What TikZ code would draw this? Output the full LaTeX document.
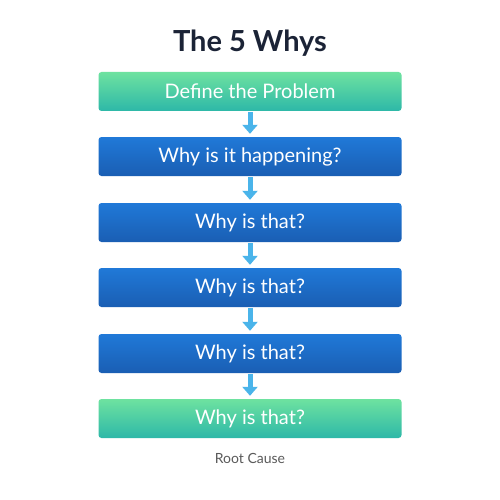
\documentclass[tikz,border=0pt]{standalone}
\usepackage{fontspec}
\setmainfont{Lato}
\usetikzlibrary{arrows.meta}
\definecolor{greenTop}{HTML}{6EE2A0}
\definecolor{greenBot}{HTML}{2DB8A8}
\definecolor{blueTop}{HTML}{2079D8}
\definecolor{blueBot}{HTML}{1A5EB3}
\definecolor{arrowBlue}{HTML}{4AB4EA}
\definecolor{titleNavy}{HTML}{1B2336}
\definecolor{noteGray}{HTML}{5A5A5A}
\tikzset{
  greenbox/.style={rounded corners=3pt, top color=greenTop, bottom color=greenBot, minimum width=303pt, minimum height=39pt, text=white, font=\fontsize{20}{24}\selectfont, inner sep=0pt},
  bluebox/.style={rounded corners=3pt, top color=blueTop, bottom color=blueBot, minimum width=303pt, minimum height=39pt, text=white, font=\fontsize{20}{24}\selectfont, inner sep=0pt},
  downarrow/.style={draw=arrowBlue, line width=5pt, -{Triangle[width=15pt,length=9pt]}, shorten <=1pt, shorten >=3pt}
}
\begin{document}
\begin{tikzpicture}[x=1pt,y=-1pt]
\useasboundingbox[fill=white] (0,0) rectangle (500,500);
\node[font=\fontsize{29}{34}\selectfont\bfseries, text=titleNavy] (title) at (250,43) {The 5 Whys};
\node[greenbox] (b1) at (250,91.5) {Define the Problem};
\node[bluebox] (b2) at (250,156.5) {Why is it happening?};
\node[bluebox] (b3) at (250,222.5) {Why is that?};
\node[bluebox] (b4) at (250,287.5) {Why is that?};
\node[bluebox] (b5) at (250,353.5) {Why is that?};
\node[greenbox] (b6) at (250,418.5) {Why is that?};
\node[font=\fontsize{14}{16}\selectfont, text=noteGray] (rc) at (250,458) {Root Cause};
\draw[downarrow] (b1.south) -- (b2.north);
\draw[downarrow] (b2.south) -- (b3.north);
\draw[downarrow] (b3.south) -- (b4.north);
\draw[downarrow] (b4.south) -- (b5.north);
\draw[downarrow] (b5.south) -- (b6.north);
\end{tikzpicture}
\end{document}
